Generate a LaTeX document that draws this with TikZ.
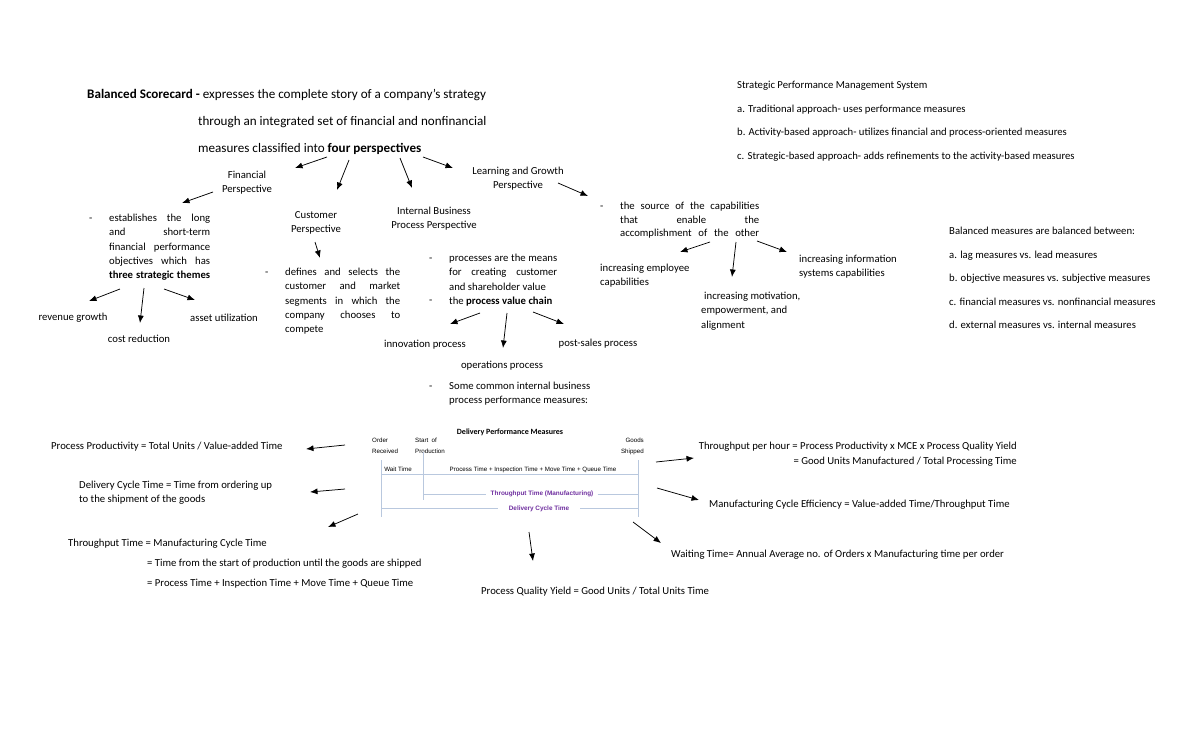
\documentclass[tikz,border=0pt]{standalone}
\usepackage{fontspec}
\setmainfont{Carlito}
\newfontfamily\chartfont{Liberation Sans}
\usepackage{xcolor}
\usetikzlibrary{arrows.meta}
\definecolor{chartline}{RGB}{185,200,222}
\definecolor{chartviolet}{RGB}{112,48,160}
\newcommand{\jl}[2]{\makebox[#1][s]{#2}}

\begin{document}
\begin{tikzpicture}[x=1pt,y=-1pt,
  txt/.style={font=\fontsize{10.7}{14.25}\selectfont,inner sep=0pt,anchor=base west,align=left},
  ctr/.style={txt,anchor=base,align=center},
  lst/.style={txt,font=\fontsize{10.7}{23.6}\selectfont},
  arr/.style={-{Latex[length=7.5pt,width=6pt]},line width=0.75pt},
  chart/.style={chartline,line width=0.7pt},
  tiny/.style={font=\chartfont\fontsize{6.2}{11}\selectfont,inner sep=0pt,anchor=base west,align=left},
  plabel/.style={font=\chartfont\bfseries\fontsize{6.4}{8}\selectfont,text=chartviolet,inner ysep=0pt}]
\useasboundingbox (0,0) rectangle (1200,729);
\fill[white] (0,0) rectangle (1200,729);
\node[txt,font=\fontsize{13.1}{27}\selectfont] (head) at (87,98) {\textbf{Balanced Scorecard -} expresses the complete story of a company's strategy};
\node[txt,font=\fontsize{13.1}{27}\selectfont] (headb) at (198,152) {through an integrated set of financial and nonfinancial\\measures classified into \textbf{four perspectives}};
\node[ctr] (fin) at (247,192.75) {Financial\\Perspective};
\node[ctr] (cus) at (316,232.75) {Customer\\Perspective};
\node[ctr] (ibp) at (434,228.75) {Internal Business\\Process Perspective};
\node[ctr] (lng) at (518,188.75) {Learning and Growth\\Perspective};
\node[txt] (finD) at (89,221.5) {-};
\node[txt] (finT) at (109,278.5) {\jl{101pt}{establishes the long}\\\jl{101pt}{and short-term}\\\jl{101pt}{financial performance}\\\jl{101pt}{objectives which has}\\\jl{101pt}{\textbf{three strategic themes}}};
\node[ctr] (rev) at (73,320.5) {revenue growth};
\node[ctr] (cost) at (139,342.5) {cost reduction};
\node[ctr] (asset) at (224,321.5) {asset utilization};
\node[txt] (cusD) at (265,275.5) {-};
\node[txt] (cusT) at (285,332.5) {\jl{115pt}{defines and selects the}\\\jl{115pt}{customer and market}\\\jl{115pt}{segments in which the}\\\jl{115pt}{company chooses to}\\compete};
\node[txt] (ibpD) at (429,261.5) {-};
\node[txt] (ibpE) at (429,303.5) {-};
\node[txt] (ibpT) at (449,304.25) {\jl{108pt}{processes are the means}\\\jl{108pt}{for creating customer}\\and shareholder value\\the \textbf{process value chain}};
\node[ctr] (inn) at (425,347.5) {innovation process};
\node[ctr] (ops) at (502,368.5) {operations process};
\node[ctr] (post) at (598,346.5) {post-sales process};
\node[txt] (mesD) at (429,389.5) {-};
\node[txt] (mesT) at (449,403.75) {Some common internal business\\process performance measures:};
\node[txt] (lngD) at (600,209.5) {-};
\node[txt,font=\fontsize{10.7}{13.6}\selectfont] (lngT) at (620,236.7) {\jl{139pt}{the source of the capabilities}\\\jl{139pt}{that enable the}\\\jl{139pt}{accomplishment of the other}};
\node[txt] (emp) at (600,285.75) {increasing employee\\capabilities};
\node[txt] (mot) at (701,328) {\hspace{3pt}increasing motivation,\\empowerment, and\\alignment};
\node[txt] (info) at (799,276.75) {increasing information\\systems capabilities};
\node[lst] (spm) at (737,159.3) {Strategic Performance Management System\\a. Traditional approach- uses performance measures\\b. Activity-based approach- utilizes financial and process-oriented measures\\c. Strategic-based approach- adds refinements to the activity-based measures};
\node[lst] (bal) at (949,328.9) {Balanced measures are balanced between:\\a. lag measures vs. lead measures\\b. objective measures vs. subjective measures\\c. financial measures vs. nonfinancial measures\\d. external measures vs. internal measures};
\node[txt] (ppr) at (51,449.5) {Process Productivity = Total Units / Value-added Time};
\node[txt] (dcy) at (79,502.75) {Delivery Cycle Time = Time from ordering up\\to the shipment of the goods};
\node[txt] (thr) at (68,546.5) {Throughput Time = Manufacturing Cycle Time};
\node[txt,font=\fontsize{10.7}{20}\selectfont] (thrb) at (147,586.5) {= Time from the start of production until the goods are shipped\\= Process Time + Inspection Time + Move Time + Queue Time};
\node[txt,anchor=base east,align=right,font=\fontsize{10.7}{15}\selectfont] (tph) at (1017,464.5) {Throughput per hour = Process Productivity x MCE x Process Quality Yield\\= Good Units Manufactured / Total Processing Time};
\node[txt] (mce) at (709,507.5) {Manufacturing Cycle Efficiency = Value-added Time/Throughput Time};
\node[txt] (wait) at (671,557.5) {Waiting Time= Annual Average no. of Orders x Manufacturing time per order};
\node[txt] (pqy) at (481,594.5) {Process Quality Yield = Good Units / Total Units Time};
\node[txt,anchor=base,font=\bfseries\fontsize{8}{10}\selectfont] (dpm) at (510,434) {Delivery Performance Measures};
\node[tiny] (ord) at (372,453.5) {Order\\Received};
\node[tiny] (sta) at (415,453.5) {Start\ \ of\\Production};
\node[tiny,anchor=base east,align=right] (gds) at (644,453.5) {Goods\\Shipped};
\node[tiny,anchor=base] (wtl) at (398,471) {Wait Time};
\node[tiny,anchor=base] (ptl) at (533,471) {Process Time + Inspection Time + Move Time + Queue Time};
\node[plabel,inner xsep=4pt] (tpl) at (542,494) {Throughput Time (Manufacturing)};
\node[plabel,inner xsep=11pt] (dcl) at (539,508.5) {Delivery Cycle Time};
\coordinate (C1) at (381,460); \coordinate (C2) at (381,517);
\coordinate (C3) at (423,452); \coordinate (C4) at (423,500);
\coordinate (C5) at (638,460); \coordinate (C6) at (638,517);
\coordinate (R1) at (381,474); \coordinate (R2) at (638,474);
\coordinate (T1) at (423,494); \coordinate (T2) at (638,494);
\coordinate (D1) at (381,508.5); \coordinate (D2) at (638,508.5);
\draw[chart] (C1)--(C2) (C3)--(C4) (C5)--(C6) (R1)--(R2);
\draw[chart] (T1)--(tpl.west) (tpl.east)--(T2);
\draw[chart] (D1)--(dcl.west) (dcl.east)--(D2);
\coordinate (H1a) at (327,157); \coordinate (H1b) at (295,168);
\coordinate (H2a) at (349,160); \coordinate (H2b) at (337,190);
\coordinate (H3a) at (400,158); \coordinate (H3b) at (412,188);
\coordinate (H4a) at (423,157); \coordinate (H4b) at (453,168);
\coordinate (F0a) at (213,192); \coordinate (F0b) at (182,203);
\coordinate (F1a) at (120,289); \coordinate (F1b) at (89,301);
\coordinate (F2a) at (144,288); \coordinate (F2b) at (140,323);
\coordinate (F3a) at (164,289); \coordinate (F3b) at (195,300);
\coordinate (K0a) at (315,242); \coordinate (K0b) at (320,258);
\coordinate (P1a) at (480,313); \coordinate (P1b) at (450,324);
\coordinate (P2a) at (507,313); \coordinate (P2b) at (503,348);
\coordinate (P3a) at (533,312); \coordinate (P3b) at (564,324);
\coordinate (L0a) at (558,183); \coordinate (L0b) at (588,196);
\coordinate (L1a) at (710,242); \coordinate (L1b) at (680,252);
\coordinate (L2a) at (736,242); \coordinate (L2b) at (732,277);
\coordinate (L3a) at (757,241); \coordinate (L3b) at (787,252);
\coordinate (M1a) at (345,445); \coordinate (M1b) at (306,449);
\coordinate (M2a) at (345,489); \coordinate (M2b) at (310,492);
\coordinate (M3a) at (358,514); \coordinate (M3b) at (328,527);
\coordinate (M4a) at (656,462); \coordinate (M4b) at (694,458);
\coordinate (M5a) at (657,488); \coordinate (M5b) at (699,500);
\coordinate (M6a) at (633,522); \coordinate (M6b) at (661,543);
\coordinate (M7a) at (529,532); \coordinate (M7b) at (533,561);
\draw[arr] (H1a)--(H1b);
\draw[arr] (H2a)--(H2b);
\draw[arr] (H3a)--(H3b);
\draw[arr] (H4a)--(H4b);
\draw[arr] (F0a)--(F0b);
\draw[arr] (F1a)--(F1b);
\draw[arr] (F2a)--(F2b);
\draw[arr] (F3a)--(F3b);
\draw[arr] (K0a)--(K0b);
\draw[arr] (P1a)--(P1b);
\draw[arr] (P2a)--(P2b);
\draw[arr] (P3a)--(P3b);
\draw[arr] (L0a)--(L0b);
\draw[arr] (L1a)--(L1b);
\draw[arr] (L2a)--(L2b);
\draw[arr] (L3a)--(L3b);
\draw[arr] (M1a)--(M1b);
\draw[arr] (M2a)--(M2b);
\draw[arr] (M3a)--(M3b);
\draw[arr] (M4a)--(M4b);
\draw[arr] (M5a)--(M5b);
\draw[arr] (M6a)--(M6b);
\draw[arr] (M7a)--(M7b);
\end{tikzpicture}
\end{document}
